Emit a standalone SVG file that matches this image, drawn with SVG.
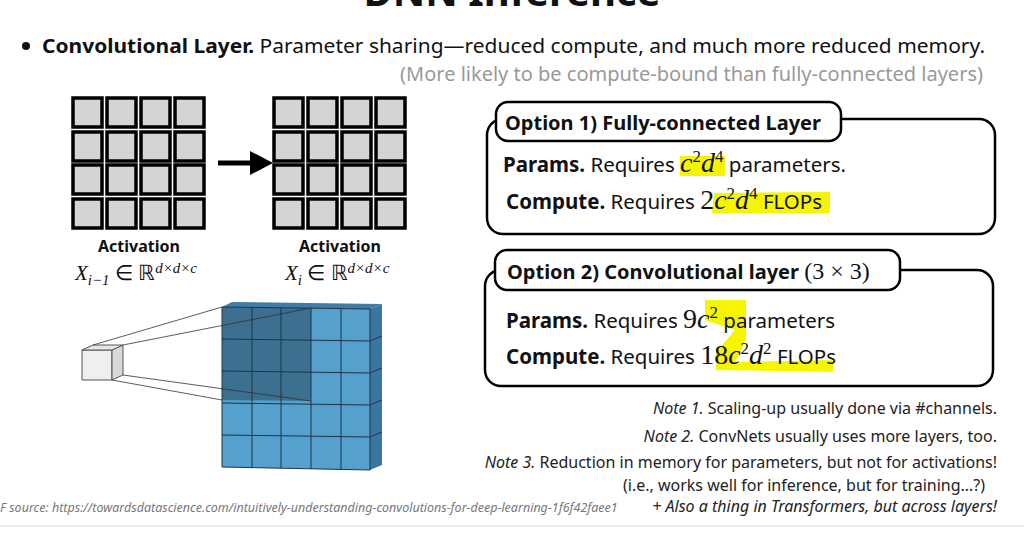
<svg xmlns="http://www.w3.org/2000/svg" width="1024" height="534" viewBox="0 0 1024 534">
<style>
.s{font-family:"Noto Sans","Liberation Sans",sans-serif;fill:#111}
.b{font-weight:bold}
.m{font-family:"Liberation Serif",serif;font-style:italic;fill:#111}
.r{font-family:"Liberation Serif",serif;fill:#111}
.cell{fill:#d4d4d4;stroke:#000;stroke-width:3.5}
.box{fill:#fff;stroke:#000;stroke-width:2.5}
.hl{fill:#f5f500}
.note{font-family:"Noto Sans","Liberation Sans",sans-serif;font-size:16px;fill:#222}
</style>
<defs>
<g id="grid">
<rect class="cell" x="2" y="2" width="29" height="29"/><rect class="cell" x="36" y="2" width="29" height="29"/><rect class="cell" x="70" y="2" width="29" height="29"/><rect class="cell" x="104" y="2" width="29" height="29"/>
<rect class="cell" x="2" y="36" width="29" height="29"/><rect class="cell" x="36" y="36" width="29" height="29"/><rect class="cell" x="70" y="36" width="29" height="29"/><rect class="cell" x="104" y="36" width="29" height="29"/>
<rect class="cell" x="2" y="69" width="29" height="29"/><rect class="cell" x="36" y="69" width="29" height="29"/><rect class="cell" x="70" y="69" width="29" height="29"/><rect class="cell" x="104" y="69" width="29" height="29"/>
<rect class="cell" x="2" y="103" width="29" height="29"/><rect class="cell" x="36" y="103" width="29" height="29"/><rect class="cell" x="70" y="103" width="29" height="29"/><rect class="cell" x="104" y="103" width="29" height="29"/>
</g>
</defs>
<rect width="1024" height="534" fill="#fff"/>
<text class="s b" x="512" y="6" font-size="40" text-anchor="middle">DNN Inference</text>
<circle cx="26" cy="46" r="4" fill="#111"/>
<text class="s" x="42" y="53" font-size="20" textLength="943" lengthAdjust="spacingAndGlyphs"><tspan class="b">Convolutional Layer.</tspan> Parameter sharing—reduced compute, and much more reduced memory.</text>
<text class="s" x="983" y="81" font-size="20" text-anchor="end" style="fill:#999">(More likely to be compute-bound than fully-connected layers)</text>

<g id="act1"><use href="#grid" x="71" y="96"/>
<text class="s b" x="139" y="252" font-size="16" text-anchor="middle">Activation</text>
<text class="m" x="75" y="280" font-size="21">X<tspan font-size="15" dy="5">i−1</tspan><tspan class="r" dy="-5" font-style="normal"> ∈ ℝ</tspan><tspan font-size="15" dy="-7">d×d×c</tspan></text></g>
<g id="act2"><use href="#grid" x="272" y="96"/>
<text class="s b" x="340" y="252" font-size="16" text-anchor="middle">Activation</text>
<text class="m" x="285" y="280" font-size="21">X<tspan font-size="15" dy="5">i</tspan><tspan class="r" dy="-5" font-style="normal"> ∈ ℝ</tspan><tspan font-size="15" dy="-7">d×d×c</tspan></text></g>
<g id="connectors">
<line x1="218" y1="163" x2="252" y2="163" stroke="#000" stroke-width="5"/>
<polygon points="250,151 273,163 250,175" fill="#000"/>
</g>

<g id="volume">
<polygon points="222,307 232,302 382,304 370,309" fill="#3f7da6"/>
<polygon points="370,309 382,304 382,465 370,470" fill="#3a76a0"/>
<polygon points="222,307 370,309 370,470 222,467" fill="#55a0cc"/>
<polygon points="222,307 311,308 311,401 222,400" fill="#3d6f90"/>
<g stroke="#1d3447" stroke-width="1" fill="none">
<path d="M252,307V468M281,308V468M311,308V469M341,309V469"/>
<path d="M222,339L370,341M222,371L370,373M222,403L370,405M222,435L370,437"/>
<path d="M370,341L382,336M370,373L382,368M370,405L382,400M370,437L382,432"/>
<polygon points="222,307 370,309 370,470 222,467"/>
</g>
<polygon points="82,350 112,350 112,380 82,380" fill="#efefef" stroke="#555"/>
<polygon points="112,350 123,345 123,375 112,380" fill="#d8d8d8" stroke="#555"/>
<polygon points="82,350 93,345 123,345 112,350" fill="#e6e6e6" stroke="#555"/>
<g stroke="#333" stroke-width="0.8"><line x1="93" y1="345" x2="222" y2="307"/><line x1="123" y1="345" x2="311" y2="308"/><line x1="112" y1="380" x2="222" y2="400"/><line x1="123" y1="375" x2="311" y2="401"/></g>
</g>

<g id="opt1">
<rect class="box" x="487" y="119" width="508" height="115" rx="16"/>
<rect class="box" x="496" y="102" width="345" height="39" rx="12"/>
<text class="s b" x="505" y="130" font-size="20">Option 1) Fully-connected Layer</text>
<rect class="hl" x="680" y="156" width="45" height="20"/>
<path class="hl" d="M714,193 L830,192 L830,213 L712,213Z"/>
<text class="s" x="503" y="172" font-size="20.5"><tspan class="b">Params.</tspan> Requires <tspan class="m" font-size="28">c</tspan><tspan class="r" font-size="17" dy="-10">2</tspan><tspan class="m" font-size="28" dy="10">d</tspan><tspan class="r" font-size="17" dy="-10">4</tspan><tspan dy="10"> parameters.</tspan></text>
<text class="s" x="506" y="209" font-size="20.5"><tspan class="b">Compute.</tspan> Requires <tspan class="r" font-size="28">2</tspan><tspan class="m" font-size="28">c</tspan><tspan class="r" font-size="17" dy="-10">2</tspan><tspan class="m" font-size="28" dy="10">d</tspan><tspan class="r" font-size="17" dy="-10">4</tspan><tspan dy="10"> FLOPs</tspan></text>
</g>

<g id="opt2">
<rect class="box" x="485" y="270" width="508" height="116" rx="16"/>
<rect class="box" x="495" y="250" width="405" height="40" rx="12"/>
<text class="s b" x="507" y="279" font-size="20">Option 2) Convolutional layer <tspan class="r" font-weight="normal" font-size="24">(3 × 3)</tspan></text>
<path class="hl" d="M705,300 L746,300 L746,340 L735,362 L833,360 L833,372 L716,370 L716,352 L735,330 L705,320Z"/>
<text class="s" x="506" y="328" font-size="20.5"><tspan class="b">Params.</tspan> Requires <tspan class="r" font-size="28">9</tspan><tspan class="m" font-size="28">c</tspan><tspan class="r" font-size="17" dy="-10">2</tspan><tspan dy="10"> parameters</tspan></text>
<text class="s" x="506" y="364" font-size="20.5"><tspan class="b">Compute.</tspan> Requires <tspan class="r" font-size="28">18</tspan><tspan class="m" font-size="28">c</tspan><tspan class="r" font-size="17" dy="-10">2</tspan><tspan class="m" font-size="28" dy="10">d</tspan><tspan class="r" font-size="17" dy="-10">2</tspan><tspan dy="10"> FLOPs</tspan></text>
</g>

<text class="note" x="997" y="414" text-anchor="end"><tspan font-style="italic">Note 1.</tspan> Scaling-up usually done via #channels.</text>
<text class="note" x="997" y="442" text-anchor="end"><tspan font-style="italic">Note 2.</tspan> ConvNets usually uses more layers, too.</text>
<text class="note" x="997" y="468" text-anchor="end"><tspan font-style="italic">Note 3.</tspan> Reduction in memory for parameters, but not for activations!</text>
<text class="note" x="985" y="491" text-anchor="end">(i.e., works well for inference, but for training…?)</text>
<text class="note" x="997" y="512" text-anchor="end" font-style="italic">+ Also a thing in Transformers, but across layers!</text>
<text font-family="Noto Sans,sans-serif" font-size="12.5" font-style="italic" fill="#777" x="0" y="512">F source: https://towardsdatascience.com/intuitively-understanding-convolutions-for-deep-learning-1f6f42faee1</text>
<line x1="0" y1="526" x2="1024" y2="526" stroke="#ddd"/>
</svg>
